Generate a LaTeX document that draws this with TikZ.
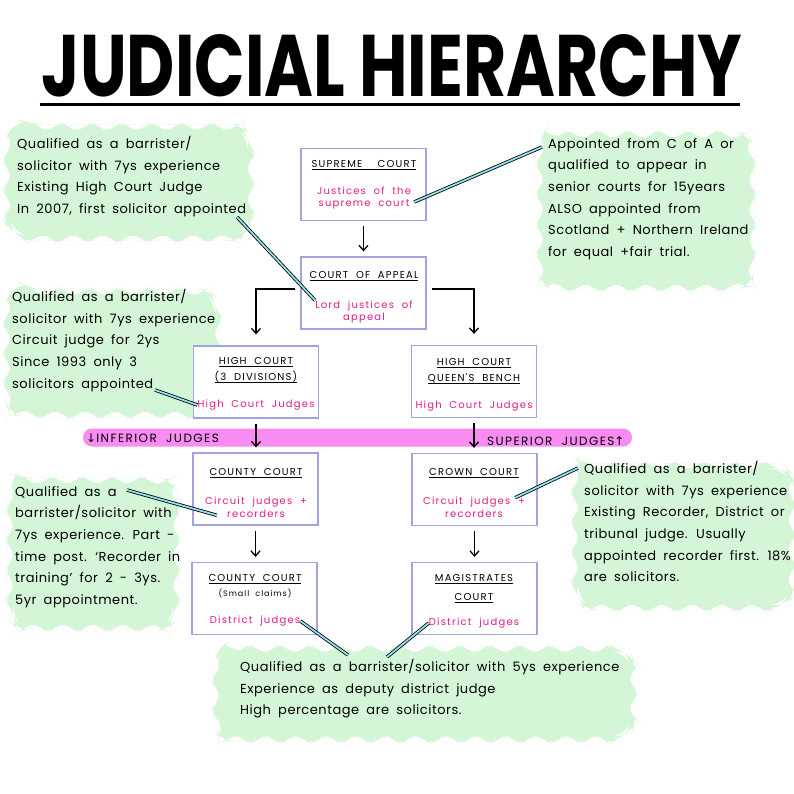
\documentclass[tikz,border=0pt]{standalone}
\usepackage{fontspec}
\usepackage{graphicx}
\usepackage{tikz}
\usetikzlibrary{arrows.meta,positioning,calc,decorations.pathmorphing}
\setmainfont{Poppins}
\newfontfamily\handfont{Poppins}[LetterSpace=4,WordSpace=1.8]
\newfontfamily\courtfont{Poppins}[LetterSpace=12,WordSpace=2]
\newfontfamily\symfont{DejaVu Sans}
\definecolor{jline}{HTML}{A3A3E4}
\definecolor{jpink}{HTML}{E31C84}
\definecolor{jband}{HTML}{F88CF2}
\definecolor{jgreen}{HTML}{D4F6D6}
\definecolor{jcyan}{HTML}{8FE3EC}
\tikzset{
  % Court frame: lavender stroke, its texts are separate nodes.
  court/.style = {rectangle, draw=jline, fill=white, line width=1.3pt,
                  minimum width=125pt, minimum height=72pt, inner sep=0pt},
  head/.style  = {font=\courtfont\fontsize{10}{16}\selectfont, align=center, inner sep=0pt},
  judge/.style = {font=\courtfont\fontsize{10}{12.5}\selectfont, text=jpink, align=center, inner sep=0pt},
  fact/.style  = {font=\handfont\fontsize{13}{21.7}\selectfont, align=left, anchor=north west, inner sep=0pt},
  blob/.style  = {fill=jgreen, rounded corners=14pt, decorate,
                  decoration={snake, segment length=30pt, amplitude=2.5pt}},
  band/.style  = {rectangle, rounded corners=9pt, fill=jband, minimum width=549pt, minimum height=18pt},
  rank/.style  = {font=\courtfont\fontsize{12}{14}\selectfont, anchor=west, inner sep=0pt},
  arr/.style   = {-{Straight Barb[length=5pt,width=9pt]}, line width=1.3pt, shorten <=5pt, shorten >=5pt},
  link/.style  = {draw=black, line width=0.8pt, double=jcyan, double distance=1.8pt},
}
\newcommand{\courtul}[1]{\setbox0\hbox{#1}\rlap{\rule[-2.6pt]{\wd0}{0.9pt}}\box0}

\begin{document}
\begin{tikzpicture}[x=1pt,y=-1pt]
\fill[white] (0,0) rectangle (794,793);
\useasboundingbox (0,0) rectangle (794,793);
% --- title -------------------------------------------------------------
\node[inner sep=0pt] (title) at (392,66)
      {\resizebox{700pt}{62pt}{\bfseries JUDICIAL HIERARCHY}};
\draw[line width=2.8pt] ($(title.south west)+(-2,7)$) -- ($(title.south east)+(-2,7)$);
% --- green notes, behind everything ------------------------------------
\foreach \a/\b in {{7,122}/{250,230}, {540,126}/{754,281}, {7,285}/{220,408},
                   {10,472}/{178,620}, {575,454}/{790,598}, {216,642}/{632,733}}
  {\fill[blob] (\a) rectangle (\b);}
% --- inferior / superior band ------------------------------------------
\node[band] (band) at (357.5,437.5) {};
\node[rank] (infr) at (86,438) {{\symfont ↓}INFERIOR JUDGES};
\node[rank] (supr) at (487,441) {SUPERIOR JUDGES{\symfont ↑}};
% --- courts ------------------------------------------------------------
\foreach \n/\x/\y in {sup/363.5/184.5, app/363.5/293, hcd/256/382, hqb/474/381.5,
                      cty/255.5/489, crn/474.5/489.5, sml/254.5/598.5, mag/474.5/598.5}
  {\node[court] (\n) at (\x,\y) {};}
\node[head] (suph) at (364,165) {\courtul{SUPREME\ \ COURT}};
\node[head] (apph) at (364,276) {\courtul{COURT OF APPEAL}};
\node[head] (hcdh) at (256,370) {\courtul{HIGH COURT}\\\courtul{(3 DIVISIONS)}};
\node[head] (hqbh) at (474,371) {\courtul{HIGH COURT}\\\courtul{QUEEN'S BENCH}};
\node[head] (ctyh) at (256,473) {\courtul{COUNTY COURT}};
\node[head] (crnh) at (474,473) {\courtul{CROWN COURT}};
\node[head] (smlh) at (255,579) {\courtul{COUNTY COURT}};
\node[head, font=\courtfont\fontsize{8}{10}\selectfont] (smlc) at (255,593) {(Small claims)};
\node[head, font=\courtfont\fontsize{10}{19}\selectfont] (magh) at (474,589)
      {\courtul{MAGISTRATES}\\\courtul{COURT}};
% --- judges, in pink ---------------------------------------------------
\node[judge] (supj) at (364,198) {Justices of the\\supreme court};
\node[judge] (appj) at (364,312) {Lord justices of\\appeal};
\node[judge] (hcdj) at (256,405) {High Court Judges};
\node[judge] (hqbj) at (474,406) {High Court Judges};
\node[judge] (ctyj) at (256,507) {Circuit judges +\\recorders};
\node[judge] (crnj) at (474,507) {Circuit judges +\\recorders};
\node[judge] (smlj) at (255,621) {District judges};
\node[judge] (magj) at (474,623) {District judges};
% --- arrows down the hierarchy -----------------------------------------
\foreach \a/\b in {sup/app, hcd/cty, hqb/crn, cty/sml, crn/mag}
  {\draw[arr] (\a.south) -- (\a.south |- \b.north);}
\draw[arr, shorten >=11pt] ([yshift=4pt]app.west) -| (hcd.north);
\draw[arr, shorten >=11pt] ([yshift=4pt]app.east) -| (hqb.north);
% --- notes -------------------------------------------------------------
\node[fact] (n1) at (17,136) {Qualified as a barrister/\\solicitor with 7ys experience\\Existing High Court Judge\\In 2007, first solicitor appointed};
\node[fact] (n2) at (548,138) {Appointed from C of A or\\qualified to appear in\\senior courts for 15years\\ALSO appointed from\\Scotland + Northern Ireland\\for equal +fair trial.};
\node[fact] (n3) at (12,289) {Qualified as a barrister/\\solicitor with 7ys experience\\Circuit judge for 2ys\\Since 1993 only 3\\solicitors appointed};
\node[fact] (n4) at (15,486) {Qualified as a\\barrister/solicitor with\\7ys experience. Part -\\time post. ‘Recorder in\\training’ for 2 - 3ys.\\5yr appointment.};
\node[fact] (n5) at (584,461) {Qualified as a barrister/\\solicitor with 7ys experience\\Existing Recorder, District or\\tribunal judge. Usually\\appointed recorder first. 18\%\\are solicitors.};
\node[fact] (n6) at (240,659) {Qualified as a barrister/solicitor with 5ys experience\\Experience as deputy district judge\\High percentage are solicitors.};
% --- links from notes to judges ----------------------------------------
\coordinate (t1) at (237,217);
\coordinate (t2) at (542,147);
\coordinate (t3) at (155,390);
\coordinate (t4) at (127,490);
\coordinate (t5) at (578,468);
\coordinate (t6) at (348,655);
\coordinate (t7) at (387,657);
\draw[link] (t1) -- (appj.north west);
\draw[link] (t2) -- ([shift={(3,4)}]supj.east);
\draw[link] (t3) -- (hcdj.west);
\draw[link] (t4) -- ([shift={(12,-2)}]ctyj.south west);
\draw[link] (t5) -- ([shift={(-10,1)}]crnj.north east);
\draw[link] (smlj.east) -- (t6);
\draw[link] (magj.west) -- (t7);
\end{tikzpicture}
\end{document}
